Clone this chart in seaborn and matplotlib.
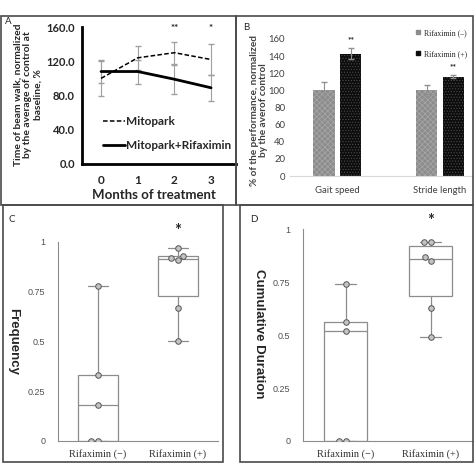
import numpy as np
import pandas as pd
import seaborn as sns
import matplotlib.pyplot as plt
from matplotlib.patches import Rectangle
from matplotlib.lines import Line2D

# --- panel A: beam walk time over months
months = [0, 1, 2, 3]
mito_mean = [100, 124, 130, 122]
mito_err = [20, 14, 13, 18]
rifax_mean = [108, 108, 99, 89]
rifax_err = [13, 14, 17, 15]
stars_a = ["", "", "**", "*"]

# --- panel B: gait parameters
metrics = ["Gait speed", "Stride length"]
perf_minus = [100, 100]
perf_minus_err = [10, 6]
perf_plus = [143, 116]
perf_plus_err = [6, 2]
stars_b = ["**", "**"]

# --- panels C and D: boxplots
groups = ["Rifaximin (\u2212)", "Rifaximin (+)"]
freq_minus = [0, 0, 0.18, 0.33, 0.78]
freq_plus = [0.5, 0.67, 0.91, 0.92, 0.93, 0.97]
dur_minus = [0, 0, 0.52, 0.56, 0.74]
dur_plus = [0.49, 0.63, 0.85, 0.87, 0.94, 0.94]

sns.set_style("white")
plt.rcParams["font.family"] = ["Lato", "DejaVu Sans"]
plt.rcParams["hatch.linewidth"] = 0.5

W, H = 474, 463
fig = plt.figure(figsize=(W / 100, H / 100), dpi=100)


def ax_px(l, t, r, b):
    return fig.add_axes([l / W, 1 - b / H, (r - l) / W, (b - t) / H])


def ftext(x, y, s, **kw):
    return fig.text(x / W, 1 - y / H, s, **kw)


# panel frames
for (l, t, r, b) in [(1, 16, 236, 205), (236, 16, 473, 205), (3, 205, 223, 462), (240, 205, 473, 462)]:
    fig.patches.append(Rectangle((l / W, 1 - b / H), (r - l) / W, (b - t) / H,
                                 transform=fig.transFigure, fill=False,
                                 edgecolor="#4a4a4a", lw=1.2))

# ================= A
ax = ax_px(82, 27, 236, 164)
ax.errorbar(months, mito_mean, yerr=mito_err, fmt="none", ecolor="#a0a0a0", capsize=2.5, lw=0.8)
ax.errorbar(months, rifax_mean, yerr=rifax_err, fmt="none", ecolor="#a0a0a0", capsize=2.5, lw=0.8)
sns.lineplot(x=months, y=mito_mean, ax=ax, color="black", lw=1.1, linestyle=(0, (3, 1.5)), label="Mitopark")
sns.lineplot(x=months, y=rifax_mean, ax=ax, color="black", lw=2, label="Mitopark+Rifaximin")
for m, s in zip(months, stars_a):
    if s:
        ax.text(m, 158, s, ha="center", va="center", fontsize=7, fontweight="bold")
ax.set_xlim(-0.52, 3.68)
ax.set_ylim(0, 160)
ax.set_xticks(months)
ax.set_yticks([0, 40, 80, 120, 160])
ax.set_yticklabels(["0.0", "40.0", "80.0", "120.0", "160.0"])
for t in ax.get_xticklabels() + ax.get_yticklabels():
    t.set_fontweight("bold")
ax.tick_params(axis="x", length=0, pad=8, labelsize=8.5)
ax.tick_params(axis="y", length=0, pad=5, labelsize=8)
for sp in ["top", "right"]:
    ax.spines[sp].set_visible(False)
for sp in ["left", "bottom"]:
    ax.spines[sp].set_color("black")
    ax.spines[sp].set_linewidth(2)
ax.legend(loc="upper left", bbox_to_anchor=(0.1, 0.39), frameon=False, borderpad=0,
          handlelength=1.8, handletextpad=0.15, labelspacing=1.1,
          prop={"weight": "bold", "size": 8.5})
ax.set_xlabel("")
ax.set_ylabel("")
ftext(28, 95, "Time of beam walk, normalized\nby the average of control at\nbaseline, %",
      rotation=90, ha="center", va="center", fontsize=7.4, fontweight="bold", linespacing=1.15,
      multialignment="center")
ftext(154, 195, "Months of treatment", ha="center", va="center", fontsize=9.5, fontweight="bold")
ftext(8, 21, "A", ha="center", va="center", fontsize=7)

# ================= B
ax = ax_px(290, 39, 474, 176)
df_b = pd.DataFrame({
    "metric": metrics * 2,
    "group": ["Rifaximin (-)"] * 2 + ["Rifaximin (+)"] * 2,
    "value": perf_minus + perf_plus,
    "err": perf_minus_err + perf_plus_err,
})
sns.barplot(data=df_b, x="metric", y="value", hue="group", palette=["#8c8c8c", "#0d0d0d"],
            width=0.52, gap=0.2, errorbar=None, legend=False, ax=ax)
hatches = ["xxxxxx", "xxxxxx", "......", "......"]
hcols = ["#a8a8a8", "#a8a8a8", "#4a4a4a", "#4a4a4a"]
for p, h, c in zip(ax.patches, hatches, hcols):
    p.set_hatch(h)
    p.set_edgecolor(c)
    p.set_linewidth(0)
for p, e in zip(ax.patches, df_b["err"]):
    cx = p.get_x() + p.get_width() / 2
    ax.errorbar(cx, p.get_height(), yerr=e, fmt="none", ecolor="#909090", capsize=2, lw=0.8)
for p, e, s in zip(ax.patches[2:], perf_plus_err, stars_b):
    cx = p.get_x() + p.get_width() / 2
    ax.text(cx, p.get_height() + e + 10, s, ha="center", va="center", fontsize=6, fontweight="bold")
ax.set_xlim(-0.46, 1.33)
ax.set_ylim(0, 160)
ax.set_yticks(range(0, 161, 20))
ax.tick_params(axis="both", length=0, colors="#404040", labelsize=6.8)
ax.tick_params(axis="x", pad=7)
for sp in ["top", "right", "left"]:
    ax.spines[sp].set_visible(False)
ax.spines["bottom"].set_color("#d9d9d9")
ax.set_xlabel("")
ax.set_ylabel("")
ax.legend([Line2D([], [], marker="s", ls="", color="#8c8c8c", markersize=3.5),
           Line2D([], [], marker="s", ls="", color="#0d0d0d", markersize=3.5)],
          ["Rifaximin (\u2013)", "Rifaximin (+)"], loc="upper left",
          bbox_to_anchor=(412 / W, 1 - 25 / H), bbox_transform=fig.transFigure,
          frameon=False, borderpad=0, handlelength=0.6, handletextpad=0.5, labelspacing=1.7,
          prop={"family": "Liberation Serif", "size": 5.6})
ftext(259, 110, "% of the performance, normalized\nby the averof control",
      rotation=90, ha="center", va="center", fontsize=7.2, fontweight="bold", color="#404040",
      linespacing=1.1, multialignment="center")
ftext(246, 28, "B", ha="center", va="center", fontsize=7)


# ================= C and D
def box_panel(ax, minus, plus, star_y, ylabel, lab_xy):
    df = pd.DataFrame({
        "group": [groups[0]] * len(minus) + [groups[1]] * len(plus),
        "value": minus + plus,
    })
    sns.boxplot(data=df, x="group", y="value", width=0.5, color="white", linecolor="#8c8c8c",
                linewidth=0.9, fliersize=0, ax=ax)
    sns.swarmplot(data=df, x="group", y="value", color="#c4c4c4", edgecolor="#555555",
                  linewidth=0.7, size=4, ax=ax)
    ax.text(1, star_y, "*", ha="center", va="center", fontsize=12, fontweight="bold")
    ax.set_xlim(-0.5, 1.5)
    ax.set_ylim(0, 1.1)
    ax.set_yticks([0, 0.25, 0.5, 0.75, 1])
    ax.set_yticklabels(["0", "0.25", "0.5", "0.75", "1"])
    ax.set_xticks([-0.5, 0.5, 1.5], minor=True)
    ax.tick_params(axis="x", which="major", length=0, pad=6)
    ax.tick_params(axis="x", which="minor", length=3, color="#8c8c8c", width=0.8)
    ax.tick_params(axis="y", length=3, color="#8c8c8c", width=0.8, labelsize=6.5,
                   labelcolor="#505050", pad=6)
    for t in ax.get_xticklabels():
        t.set_fontfamily("Liberation Serif")
        t.set_fontsize(7.5)
        t.set_color("#303030")
    for t in ax.get_yticklabels():
        t.set_fontfamily("Liberation Sans")
    for sp in ["top", "right"]:
        ax.spines[sp].set_visible(False)
    for sp in ["left", "bottom"]:
        ax.spines[sp].set_color("#8c8c8c")
        ax.spines[sp].set_linewidth(0.8)
    ax.spines["left"].set_bounds(0, 1)
    ax.set_xlabel("")
    ax.set_ylabel("")
    ftext(lab_xy[0], lab_xy[1], ylabel, rotation=270, ha="center", va="center",
          fontsize=9.5, fontweight="bold", family="Liberation Sans")


ax = ax_px(58, 222, 218, 441)
box_panel(ax, freq_minus, freq_plus, 1.055, "Frequency", (13, 342))
ftext(12, 220, "C", ha="center", va="center", fontsize=7)

ax = ax_px(303, 208, 473, 441)
box_panel(ax, dur_minus, dur_plus, 1.04, "Cumulative Duration", (259, 334))
ftext(254, 220, "D", ha="center", va="center", fontsize=7)

fig.savefig("out.png", dpi=100)
